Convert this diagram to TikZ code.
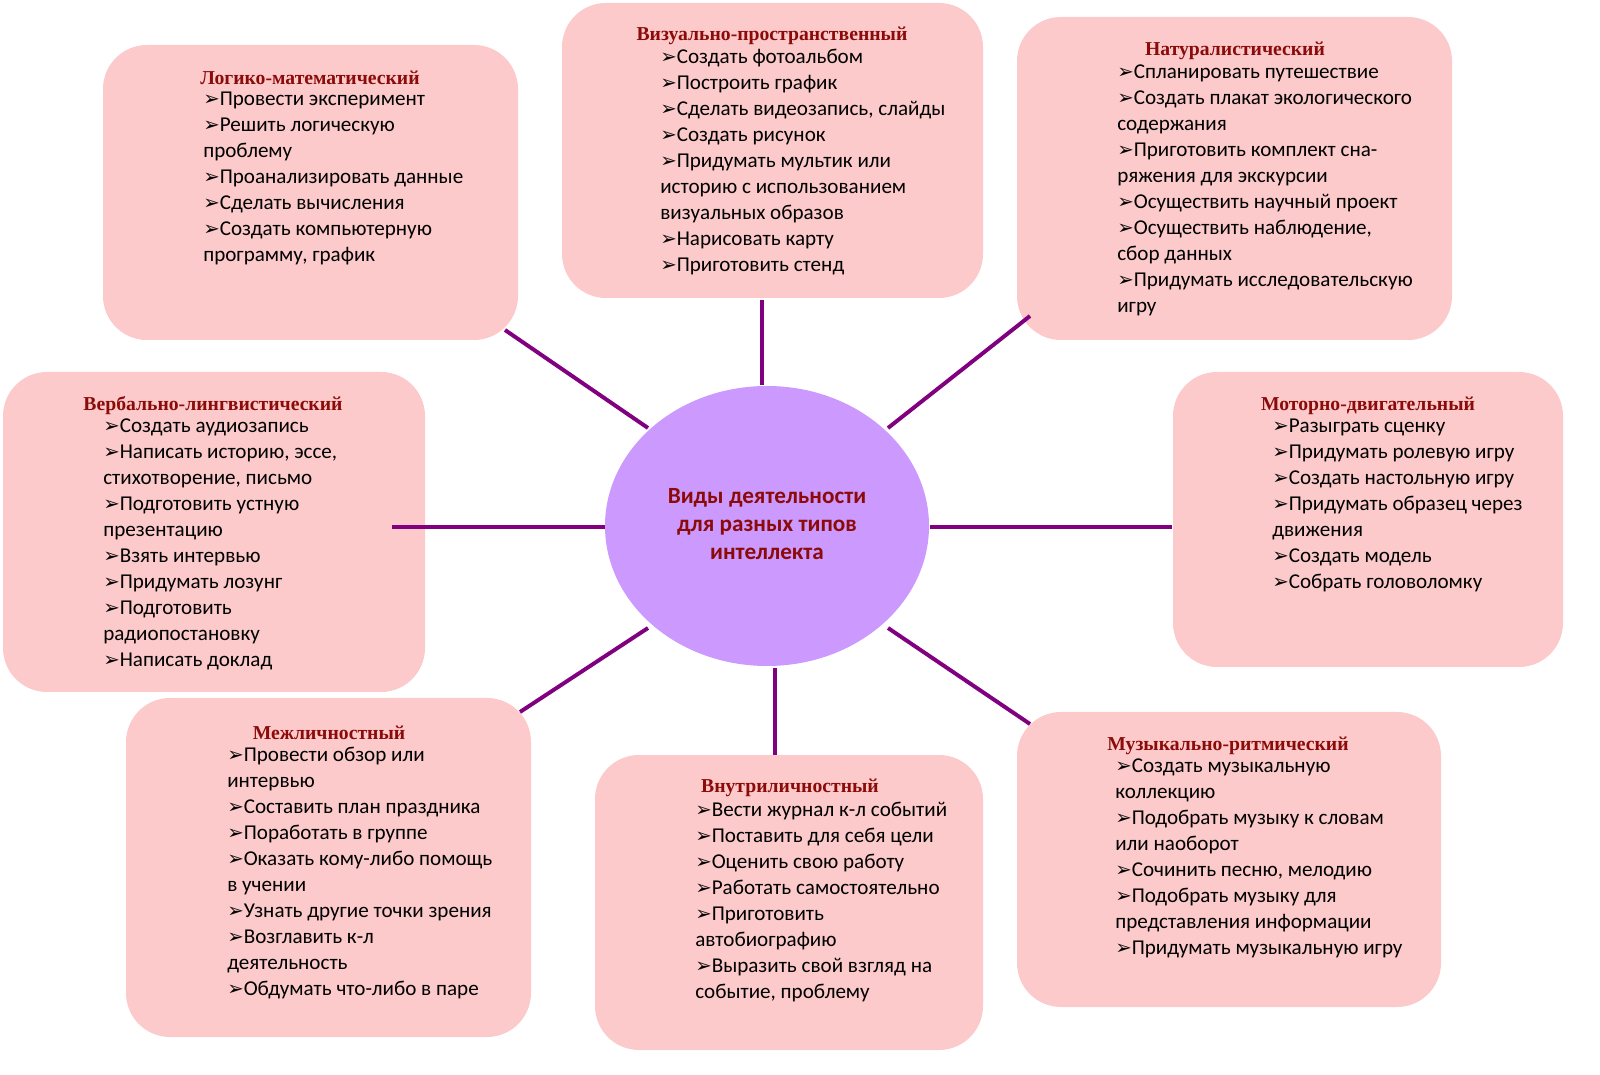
\documentclass[tikz,border=0pt]{standalone}
\usepackage{fontspec}
\setmainfont{Carlito}
\newfontfamily\ttl{Liberation Serif}
\newfontfamily\dv{DejaVu Sans}
\newcommand{\ar}{{\dv\bfseries\fontsize{14}{14}\selectfont ➢}}
\begin{document}
\begin{tikzpicture}[x=0.025cm,y=-0.025cm,
 box/.style={fill=pink0,draw=none,rounded corners=1.1cm},
 ttlst/.style={font=\ttl\bfseries\fontsize{14}{16}\selectfont,text=dred,inner sep=0},
 items/.style={anchor=north west,align=left,inner sep=0,font=\fontsize{15}{18.45}\selectfont,text=black},
 con/.style={draw=purp,line width=2.8pt}]
\definecolor{pink0}{HTML}{FCCACA}
\definecolor{dred}{HTML}{8B0A0A}
\definecolor{purp}{HTML}{800080}
\definecolor{ell}{HTML}{CC99FF}
\useasboundingbox (0,0) rectangle (1600,1075);
% boxes
\path[box] (103,45) rectangle (518,340) node[pos=0.5](b1){};
\path[box] (562,3) rectangle (983,298) node[pos=0.5](b2){};
\path[box] (1017,17) rectangle (1452,340) node[pos=0.5](b3){};
\path[box] (3,372) rectangle (425,692) node[pos=0.5](b4){};
\path[box] (1173,372) rectangle (1563,667) node[pos=0.5](b5){};
\path[box] (126,698) rectangle (531,1037) node[pos=0.5](b6){};
\path[box] (595,755) rectangle (983,1050) node[pos=0.5](b7){};
\path[box] (1017,712) rectangle (1441,1007) node[pos=0.5](b8){};
% centre
\fill[ell] (767,526) ellipse [x radius=162,y radius=140];
\node[align=center,font=\bfseries\fontsize{16.5}{19.9}\selectfont,text=dred] (ct) at (767,524) {Виды деятельности\\для разных типов\\интеллекта};
% connectors
\coordinate (a1) at (648,428); \coordinate (e1) at (505,330);
\coordinate (a2) at (762,385); \coordinate (e2) at (762,300);
\coordinate (a3) at (888,428); \coordinate (e3) at (1030,316);
\coordinate (a4) at (605,527); \coordinate (e4) at (392,527);
\coordinate (a5) at (930,527); \coordinate (e5) at (1172,527);
\coordinate (a6) at (648,628); \coordinate (e6) at (520,712);
\coordinate (a7) at (775,668); \coordinate (e7) at (775,755);
\coordinate (a8) at (888,628); \coordinate (e8) at (1030,724);
\foreach \i in {1,...,8} \draw[con] (a\i) -- (e\i);
% texts
\node[ttlst] (t1) at (310,78) {Логико-математический};
\node[items] (i1) at (203,92) {\ar Провести эксперимент\\\ar Решить логическую\\проблему\\\ar Проанализировать данные\\\ar Сделать вычисления\\\ar Создать компьютерную\\программу, график};
\node[ttlst] (t2) at (772,36) {Визуально-пространственный};
\node[items] (i2) at (660,49) {\ar Создать фотоальбом\\\ar Построить график\\\ar Сделать видеозапись, слайды\\\ar Создать рисунок\\\ar Придумать мультик или\\историю с использованием\\визуальных образов\\\ar Нарисовать карту\\\ar Приготовить стенд};
\node[ttlst] (t3) at (1235,51) {Натуралистический};
\node[items] (i3) at (1117,65) {\ar Спланировать путешествие\\\ar Создать плакат экологического\\содержания\\\ar Приготовить комплект сна-\\ряжения для экскурсии\\\ar Осуществить научный проект\\\ar Осуществить наблюдение,\\сбор данных\\\ar Придумать исследовательскую\\игру};
\node[ttlst] (t4) at (213,406) {Вербально-лингвистический};
\node[items] (i4) at (103,419) {\ar Создать аудиозапись\\\ar Написать историю, эссе,\\стихотворение, письмо\\\ar Подготовить устную\\презентацию\\\ar Взять интервью\\\ar Придумать лозунг\\\ar Подготовить\\радиопостановку\\\ar Написать доклад};
\node[ttlst] (t5) at (1368,406) {Моторно-двигательный};
\node[items] (i5) at (1272,419) {\ar Разыграть сценку\\\ar Придумать ролевую игру\\\ar Создать настольную игру\\\ar Придумать образец через\\движения\\\ar Создать модель\\\ar Собрать головоломку};
\node[ttlst] (t6) at (329,733) {Межличностный};
\node[items] (i6) at (227,747) {\ar Провести обзор или\\интервью\\\ar Составить план праздника\\\ar Поработать в группе\\\ar Оказать кому-либо помощь\\в учении\\\ar Узнать другие точки зрения\\\ar Возглавить к-л\\деятельность\\\ar Обдумать что-либо в паре};
\node[ttlst] (t7) at (790,788) {Внутриличностный};
\node[items] (i7) at (695,802) {\ar Вести журнал к-л событий\\\ar Поставить для себя цели\\\ar Оценить свою работу\\\ar Работать самостоятельно\\\ar Приготовить\\автобиографию\\\ar Выразить свой взгляд на\\событие, проблему};
\node[ttlst] (t8) at (1228,746) {Музыкально-ритмический};
\node[items] (i8) at (1115,759) {\ar Создать музыкальную\\коллекцию\\\ar Подобрать музыку к словам\\или наоборот\\\ar Сочинить песню, мелодию\\\ar Подобрать  музыку для\\представления информации\\\ar Придумать музыкальную игру};
\end{tikzpicture}
\end{document}
